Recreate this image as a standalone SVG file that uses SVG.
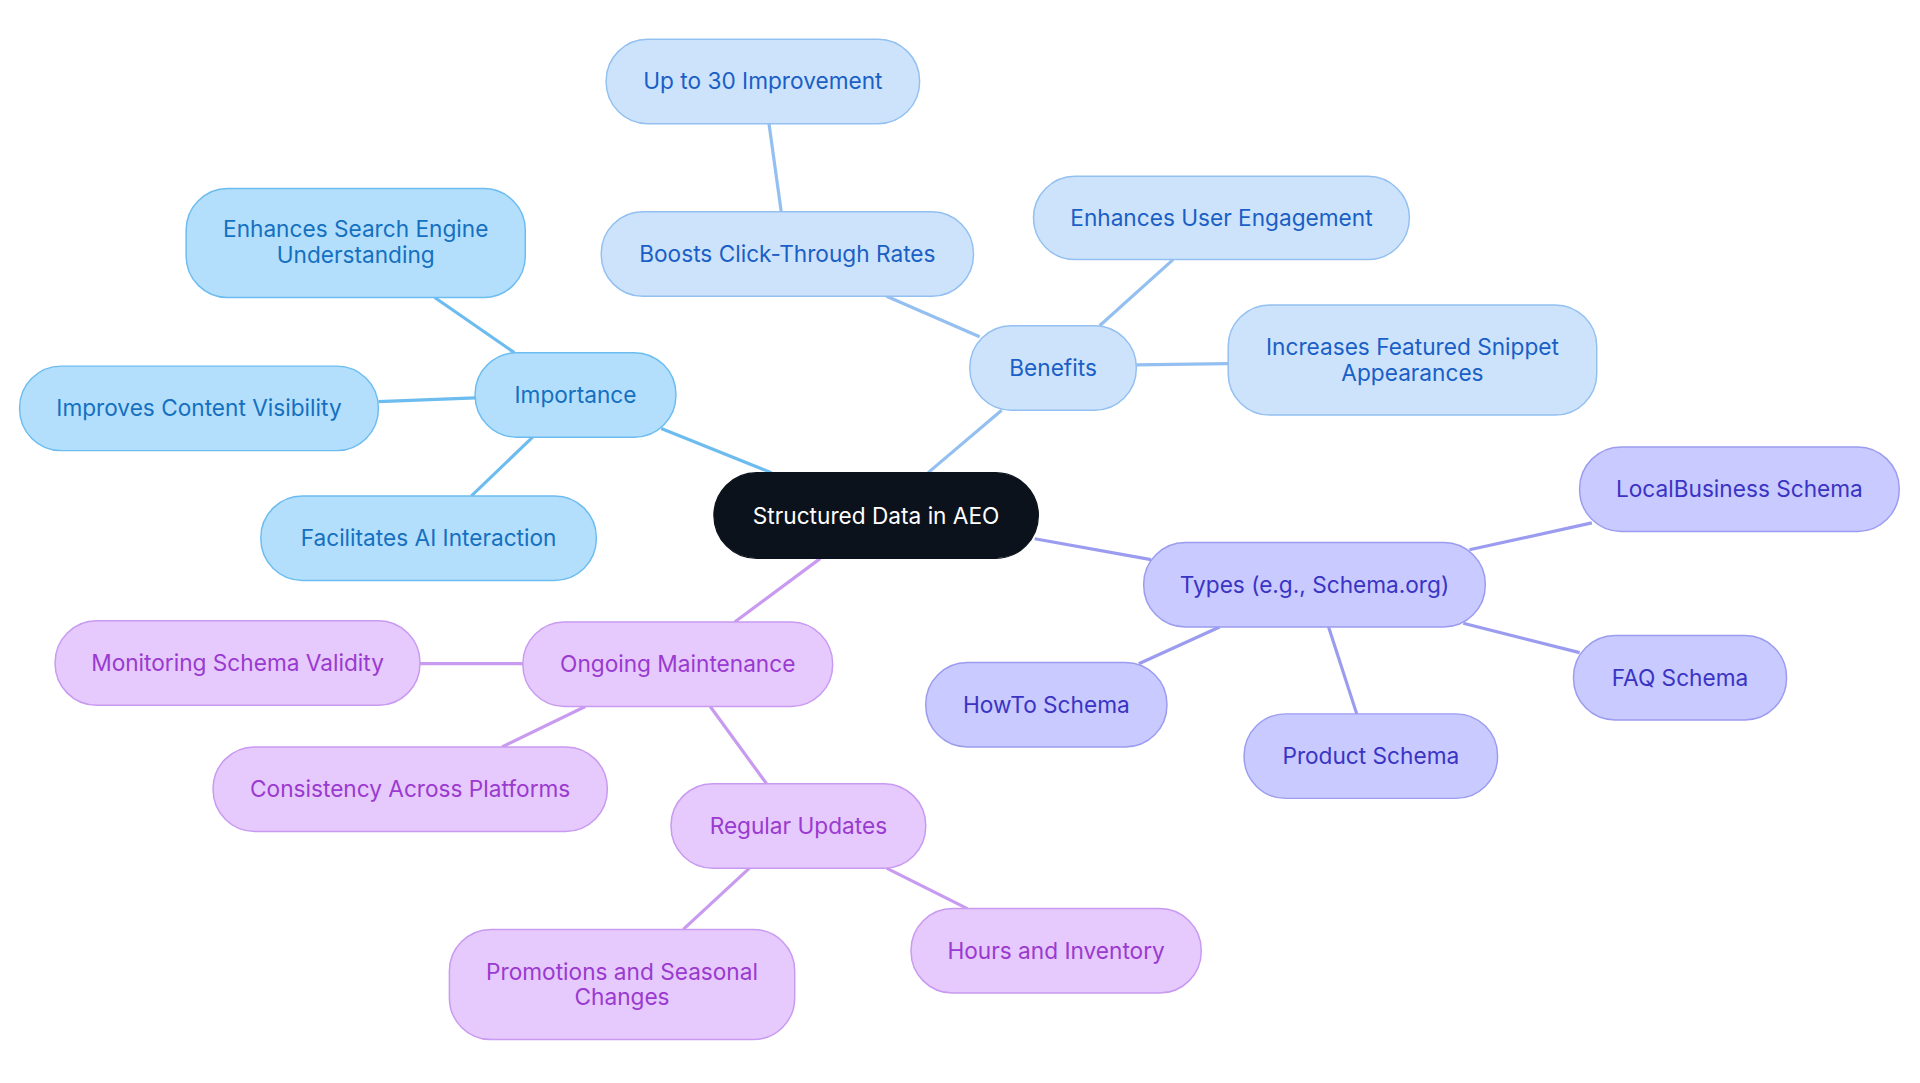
<svg xmlns="http://www.w3.org/2000/svg" width="1920" height="1083" viewBox="0 0 1920 1083">
<style>
text{font-family:Inter,"Liberation Sans",sans-serif;font-size:18.5px;text-anchor:middle;dominant-baseline:central}
.c rect{fill:#0b121c;stroke:#0b121c}.c text{fill:#fff}
.i rect{fill:#b3dffd;stroke:#6cbcef;stroke-width:1.2}.i text{fill:#1570c0}
.b rect{fill:#cde3fb;stroke:#93c0f0;stroke-width:1.2}.b text{fill:#1a5fc5}
.t rect{fill:#c9caff;stroke:#9b9cf0;stroke-width:1.2}.t text{fill:#3a34c4}
.o rect{fill:#e6c9fd;stroke:#c89af0;stroke-width:1.2}.o text{fill:#9a3ad0}
#edges line{stroke-width:2.6;fill:none}
.ei{stroke:#6cbcef}.eb{stroke:#93c0f0}.et{stroke:#9b9cf0}.eo{stroke:#c89af0}
</style>
<rect width="1920" height="1083" fill="#fff"/>
<g transform="scale(1.2245)">
<g id="edges">
<line class="ei" x1="630" y1="386" x2="540" y2="350"/>
<line class="eb" x1="758" y1="386" x2="818" y2="335"/>
<line class="et" x1="845" y1="440" x2="940" y2="457"/>
<line class="eo" x1="670" y1="456" x2="600" y2="508"/>
<line class="ei" x1="420" y1="288" x2="355" y2="243"/>
<line class="ei" x1="388" y1="325" x2="309" y2="328"/>
<line class="ei" x1="435" y1="357" x2="385" y2="405"/>
<line class="eb" x1="800" y1="275" x2="724" y2="242"/>
<line class="eb" x1="638" y1="173" x2="628" y2="101"/>
<line class="eb" x1="898" y1="266" x2="958" y2="212"/>
<line class="eb" x1="928" y1="298" x2="1003" y2="297"/>
<line class="et" x1="1200" y1="449" x2="1300" y2="427"/>
<line class="et" x1="1195" y1="509" x2="1290" y2="533"/>
<line class="et" x1="1085" y1="512" x2="1108" y2="583"/>
<line class="et" x1="996" y1="512" x2="930" y2="542"/>
<line class="eo" x1="427" y1="542" x2="343" y2="542"/>
<line class="eo" x1="478" y1="577" x2="410" y2="610"/>
<line class="eo" x1="580" y1="577" x2="626" y2="640"/>
<line class="eo" x1="612" y1="709" x2="558" y2="759"/>
<line class="eo" x1="724" y1="709" x2="790" y2="742"/>
</g>
<g id="center" class="c"><rect x="583" y="386" width="265" height="70" rx="35"/><text x="715.5" y="421">Structured Data in AEO</text></g>
<g id="importance" class="i"><rect x="388" y="288" width="164" height="69" rx="34"/><text x="470" y="322">Importance</text></g>
<g id="ise" class="i"><rect x="152" y="154" width="277" height="89" rx="34"/><text x="290.5" y="187">Enhances Search Engine</text><text x="290.5" y="208">Understanding</text></g>
<g id="icv" class="i"><rect x="16" y="299" width="293" height="69" rx="34"/><text x="162.5" y="333">Improves Content Visibility</text></g>
<g id="iai" class="i"><rect x="213" y="405" width="274" height="69" rx="34"/><text x="350" y="439">Facilitates AI Interaction</text></g>
<g id="benefits" class="b"><rect x="792" y="266" width="136" height="69" rx="34"/><text x="860" y="300">Benefits</text></g>
<g id="b30" class="b"><rect x="495" y="32" width="256" height="69" rx="34"/><text x="623" y="66">Up to 30 Improvement</text></g>
<g id="bctr" class="b"><rect x="491" y="173" width="304" height="69" rx="34"/><text x="643" y="207">Boosts Click-Through Rates</text></g>
<g id="bue" class="b"><rect x="844" y="144" width="307" height="68" rx="34"/><text x="997.5" y="178">Enhances User Engagement</text></g>
<g id="bfs" class="b"><rect x="1003" y="249" width="301" height="90" rx="34"/><text x="1153.5" y="283">Increases Featured Snippet</text><text x="1153.5" y="304">Appearances</text></g>
<g id="types" class="t"><rect x="934" y="443" width="279" height="69" rx="34"/><text x="1073.5" y="477">Types (e.g., Schema.org)</text></g>
<g id="tlb" class="t"><rect x="1290" y="365" width="261" height="69" rx="34"/><text x="1420.5" y="399">LocalBusiness Schema</text></g>
<g id="tfaq" class="t"><rect x="1285" y="519" width="174" height="69" rx="34"/><text x="1372" y="553">FAQ Schema</text></g>
<g id="tprod" class="t"><rect x="1016" y="583" width="207" height="69" rx="34"/><text x="1119.5" y="617">Product Schema</text></g>
<g id="thowto" class="t"><rect x="756" y="541" width="197" height="69" rx="34"/><text x="854.5" y="575">HowTo Schema</text></g>
<g id="ongoing" class="o"><rect x="427" y="508" width="253" height="69" rx="34"/><text x="553.5" y="542">Ongoing Maintenance</text></g>
<g id="omon" class="o"><rect x="45" y="507" width="298" height="69" rx="34"/><text x="194" y="541">Monitoring Schema Validity</text></g>
<g id="ocon" class="o"><rect x="174" y="610" width="322" height="69" rx="34"/><text x="335" y="644">Consistency Across Platforms</text></g>
<g id="oreg" class="o"><rect x="548" y="640" width="208" height="69" rx="34"/><text x="652" y="674">Regular Updates</text></g>
<g id="ohrs" class="o"><rect x="744" y="742" width="237" height="69" rx="34"/><text x="862.5" y="776">Hours and Inventory</text></g>
<g id="oprom" class="o"><rect x="367" y="759" width="282" height="90" rx="34"/><text x="508" y="793">Promotions and Seasonal</text><text x="508" y="814">Changes</text></g>
</g>
</svg>
